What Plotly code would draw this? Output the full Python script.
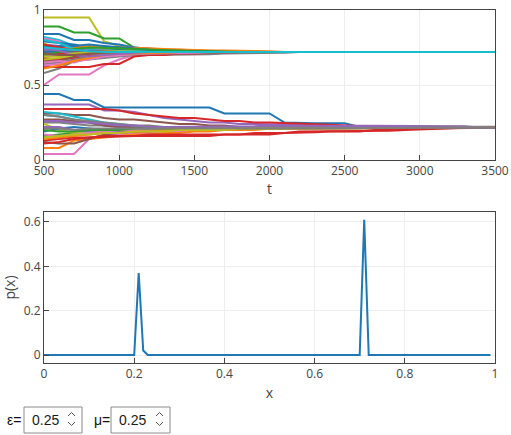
import plotly.graph_objects as go

# ---------------- data ----------------
T = [500, 600, 700, 800, 900, 1000, 1100, 1200, 1300, 1400, 1500,
     1600, 1700, 1800, 1900, 2000, 2100, 2200, 2300, 2400, 2500,
     2600, 2700, 2800, 2900, 3000, 3100, 3200, 3300, 3400, 3500]

# opinions of agents ending in the upper cluster (values at each T)
UPPER = [
    [0.95, 0.95, 0.95, 0.95, 0.79, 0.76, 0.74, 0.73, 0.73, 0.725,
     0.725, 0.72, 0.72, 0.72, 0.72, 0.72, 0.72, 0.72, 0.72, 0.72,
     0.72, 0.72, 0.72, 0.72, 0.72, 0.72, 0.72, 0.72, 0.72, 0.72, 0.72],
    [0.89, 0.89, 0.85, 0.85, 0.81, 0.81, 0.75, 0.74, 0.73, 0.73,
     0.725, 0.725, 0.72, 0.72, 0.72, 0.72, 0.72, 0.72, 0.72, 0.72,
     0.72, 0.72, 0.72, 0.72, 0.72, 0.72, 0.72, 0.72, 0.72, 0.72, 0.72],
    [0.84, 0.84, 0.80, 0.80, 0.78, 0.77, 0.75, 0.74, 0.735, 0.73,
     0.73, 0.725, 0.725, 0.72, 0.72, 0.72, 0.72, 0.72, 0.72, 0.72,
     0.72, 0.72, 0.72, 0.72, 0.72, 0.72, 0.72, 0.72, 0.72, 0.72, 0.72],
    [0.50, 0.57, 0.57, 0.57, 0.63, 0.67, 0.70, 0.71, 0.71, 0.715,
     0.715, 0.715, 0.72, 0.72, 0.72, 0.72, 0.72, 0.72, 0.72, 0.72,
     0.72, 0.72, 0.72, 0.72, 0.72, 0.72, 0.72, 0.72, 0.72, 0.72, 0.72],
    [0.58, 0.61, 0.66, 0.67, 0.68, 0.69, 0.70, 0.70, 0.70, 0.705,
     0.705, 0.705, 0.71, 0.71, 0.71, 0.715, 0.715, 0.72, 0.72, 0.72,
     0.72, 0.72, 0.72, 0.72, 0.72, 0.72, 0.72, 0.72, 0.72, 0.72, 0.72],
    [0.62, 0.62, 0.62, 0.62, 0.64, 0.64, 0.69, 0.70, 0.70, 0.71,
     0.71, 0.715, 0.715, 0.72, 0.72, 0.72, 0.72, 0.72, 0.72, 0.72,
     0.72, 0.72, 0.72, 0.72, 0.72, 0.72, 0.72, 0.72, 0.72, 0.72, 0.72],
    [0.82, 0.80, 0.76, 0.74, 0.73, 0.73, 0.73, 0.725, 0.725, 0.72,
     0.72, 0.72, 0.72, 0.72, 0.72, 0.72, 0.72, 0.72, 0.72, 0.72,
     0.72, 0.72, 0.72, 0.72, 0.72, 0.72, 0.72, 0.72, 0.72, 0.72, 0.72],
    [0.66, 0.67, 0.70, 0.72, 0.74, 0.75, 0.75, 0.745, 0.74, 0.735,
     0.735, 0.73, 0.73, 0.73, 0.725, 0.725, 0.72, 0.72, 0.72, 0.72,
     0.72, 0.72, 0.72, 0.72, 0.72, 0.72, 0.72, 0.72, 0.72, 0.72, 0.72],
    [0.81, 0.79, 0.75, 0.72, 0.70, 0.71, 0.71, 0.715, 0.715, 0.72,
     0.72, 0.72, 0.72, 0.72, 0.72, 0.72, 0.72, 0.72, 0.72, 0.72,
     0.72, 0.72, 0.72, 0.72, 0.72, 0.72, 0.72, 0.72, 0.72, 0.72, 0.72],
    [0.77, 0.76, 0.74, 0.73, 0.73, 0.725, 0.725, 0.72, 0.72, 0.72,
     0.72, 0.72, 0.72, 0.72, 0.72, 0.72, 0.72, 0.72, 0.72, 0.72,
     0.72, 0.72, 0.72, 0.72, 0.72, 0.72, 0.72, 0.72, 0.72, 0.72, 0.72],
    [0.70, 0.70, 0.69, 0.70, 0.71, 0.71, 0.715, 0.715, 0.72, 0.72,
     0.72, 0.72, 0.72, 0.72, 0.72, 0.72, 0.72, 0.72, 0.72, 0.72,
     0.72, 0.72, 0.72, 0.72, 0.72, 0.72, 0.72, 0.72, 0.72, 0.72, 0.72],
    [0.73, 0.73, 0.71, 0.72, 0.73, 0.735, 0.73, 0.73, 0.725, 0.725,
     0.72, 0.72, 0.72, 0.72, 0.72, 0.72, 0.72, 0.72, 0.72, 0.72,
     0.72, 0.72, 0.72, 0.72, 0.72, 0.72, 0.72, 0.72, 0.72, 0.72, 0.72],
    [0.79, 0.78, 0.77, 0.75, 0.75, 0.74, 0.735, 0.73, 0.73, 0.725,
     0.725, 0.72, 0.72, 0.72, 0.72, 0.72, 0.72, 0.72, 0.72, 0.72,
     0.72, 0.72, 0.72, 0.72, 0.72, 0.72, 0.72, 0.72, 0.72, 0.72, 0.72],
    [0.78, 0.72, 0.68, 0.70, 0.71, 0.71, 0.715, 0.715, 0.72, 0.72,
     0.72, 0.72, 0.72, 0.72, 0.72, 0.72, 0.72, 0.72, 0.72, 0.72,
     0.72, 0.72, 0.72, 0.72, 0.72, 0.72, 0.72, 0.72, 0.72, 0.72, 0.72],
    [0.72, 0.71, 0.72, 0.73, 0.73, 0.725, 0.72, 0.72, 0.72, 0.72,
     0.72, 0.72, 0.72, 0.72, 0.72, 0.72, 0.72, 0.72, 0.72, 0.72,
     0.72, 0.72, 0.72, 0.72, 0.72, 0.72, 0.72, 0.72, 0.72, 0.72, 0.72],
    [0.68, 0.67, 0.68, 0.70, 0.71, 0.71, 0.715, 0.72, 0.72, 0.72,
     0.72, 0.72, 0.72, 0.72, 0.72, 0.72, 0.72, 0.72, 0.72, 0.72,
     0.72, 0.72, 0.72, 0.72, 0.72, 0.72, 0.72, 0.72, 0.72, 0.72, 0.72],
    [0.64, 0.65, 0.67, 0.69, 0.70, 0.705, 0.71, 0.71, 0.71, 0.715,
     0.715, 0.715, 0.72, 0.72, 0.72, 0.72, 0.72, 0.72, 0.72, 0.72,
     0.72, 0.72, 0.72, 0.72, 0.72, 0.72, 0.72, 0.72, 0.72, 0.72, 0.72],
    [0.74, 0.74, 0.75, 0.76, 0.75, 0.745, 0.74, 0.74, 0.735, 0.735,
     0.73, 0.73, 0.725, 0.725, 0.72, 0.72, 0.72, 0.72, 0.72, 0.72,
     0.72, 0.72, 0.72, 0.72, 0.72, 0.72, 0.72, 0.72, 0.72, 0.72, 0.72],
    [0.63, 0.64, 0.66, 0.67, 0.69, 0.70, 0.705, 0.71, 0.71, 0.715,
     0.715, 0.72, 0.72, 0.72, 0.72, 0.72, 0.72, 0.72, 0.72, 0.72,
     0.72, 0.72, 0.72, 0.72, 0.72, 0.72, 0.72, 0.72, 0.72, 0.72, 0.72],
    [0.76, 0.75, 0.72, 0.70, 0.70, 0.71, 0.71, 0.715, 0.72, 0.72,
     0.72, 0.72, 0.72, 0.72, 0.72, 0.72, 0.72, 0.72, 0.72, 0.72,
     0.72, 0.72, 0.72, 0.72, 0.72, 0.72, 0.72, 0.72, 0.72, 0.72, 0.72],
    [0.69, 0.70, 0.71, 0.71, 0.715, 0.72, 0.72, 0.72, 0.72, 0.72,
     0.72, 0.72, 0.72, 0.72, 0.72, 0.72, 0.72, 0.72, 0.72, 0.72,
     0.72, 0.72, 0.72, 0.72, 0.72, 0.72, 0.72, 0.72, 0.72, 0.72, 0.72],
    [0.75, 0.76, 0.76, 0.77, 0.76, 0.75, 0.74, 0.735, 0.73, 0.73,
     0.725, 0.725, 0.72, 0.72, 0.72, 0.72, 0.72, 0.72, 0.72, 0.72,
     0.72, 0.72, 0.72, 0.72, 0.72, 0.72, 0.72, 0.72, 0.72, 0.72, 0.72],
    [0.66, 0.66, 0.69, 0.70, 0.71, 0.71, 0.715, 0.715, 0.72, 0.72,
     0.72, 0.72, 0.72, 0.72, 0.72, 0.72, 0.72, 0.72, 0.72, 0.72,
     0.72, 0.72, 0.72, 0.72, 0.72, 0.72, 0.72, 0.72, 0.72, 0.72, 0.72],
    [0.80, 0.78, 0.74, 0.72, 0.72, 0.725, 0.725, 0.72, 0.72, 0.72,
     0.72, 0.72, 0.72, 0.72, 0.72, 0.72, 0.72, 0.72, 0.72, 0.72,
     0.72, 0.72, 0.72, 0.72, 0.72, 0.72, 0.72, 0.72, 0.72, 0.72, 0.72],
    [0.71, 0.71, 0.70, 0.70, 0.71, 0.71, 0.715, 0.72, 0.72, 0.72,
     0.72, 0.72, 0.72, 0.72, 0.72, 0.72, 0.72, 0.72, 0.72, 0.72,
     0.72, 0.72, 0.72, 0.72, 0.72, 0.72, 0.72, 0.72, 0.72, 0.72, 0.72],
    [0.67, 0.68, 0.70, 0.71, 0.71, 0.715, 0.72, 0.72, 0.72, 0.72,
     0.72, 0.72, 0.72, 0.72, 0.72, 0.72, 0.72, 0.72, 0.72, 0.72,
     0.72, 0.72, 0.72, 0.72, 0.72, 0.72, 0.72, 0.72, 0.72, 0.72, 0.72],
    [0.65, 0.66, 0.65, 0.68, 0.70, 0.71, 0.71, 0.715, 0.715, 0.72,
     0.72, 0.72, 0.72, 0.72, 0.72, 0.72, 0.72, 0.72, 0.72, 0.72,
     0.72, 0.72, 0.72, 0.72, 0.72, 0.72, 0.72, 0.72, 0.72, 0.72, 0.72],
    [0.73, 0.72, 0.72, 0.71, 0.71, 0.715, 0.715, 0.72, 0.72, 0.72,
     0.72, 0.72, 0.72, 0.72, 0.72, 0.72, 0.72, 0.72, 0.72, 0.72,
     0.72, 0.72, 0.72, 0.72, 0.72, 0.72, 0.72, 0.72, 0.72, 0.72, 0.72],
    [0.70, 0.72, 0.74, 0.75, 0.75, 0.745, 0.74, 0.735, 0.73, 0.73,
     0.725, 0.725, 0.72, 0.72, 0.72, 0.72, 0.72, 0.72, 0.72, 0.72,
     0.72, 0.72, 0.72, 0.72, 0.72, 0.72, 0.72, 0.72, 0.72, 0.72, 0.72],
    [0.61, 0.63, 0.66, 0.68, 0.70, 0.71, 0.71, 0.715, 0.715, 0.72,
     0.72, 0.72, 0.72, 0.72, 0.72, 0.72, 0.72, 0.72, 0.72, 0.72,
     0.72, 0.72, 0.72, 0.72, 0.72, 0.72, 0.72, 0.72, 0.72, 0.72, 0.72],
    [0.72, 0.73, 0.73, 0.725, 0.72, 0.72, 0.72, 0.72, 0.72, 0.72,
     0.72, 0.72, 0.72, 0.72, 0.72, 0.72, 0.72, 0.72, 0.72, 0.72,
     0.72, 0.72, 0.72, 0.72, 0.72, 0.72, 0.72, 0.72, 0.72, 0.72, 0.72],
    [0.74, 0.73, 0.70, 0.69, 0.70, 0.71, 0.715, 0.72, 0.72, 0.72,
     0.72, 0.72, 0.72, 0.72, 0.72, 0.72, 0.72, 0.72, 0.72, 0.72,
     0.72, 0.72, 0.72, 0.72, 0.72, 0.72, 0.72, 0.72, 0.72, 0.72, 0.72],
    [0.69, 0.69, 0.71, 0.72, 0.725, 0.725, 0.72, 0.72, 0.72, 0.72,
     0.72, 0.72, 0.72, 0.72, 0.72, 0.72, 0.72, 0.72, 0.72, 0.72,
     0.72, 0.72, 0.72, 0.72, 0.72, 0.72, 0.72, 0.72, 0.72, 0.72, 0.72],
    [0.77, 0.75, 0.73, 0.725, 0.72, 0.72, 0.72, 0.72, 0.72, 0.72,
     0.72, 0.72, 0.72, 0.72, 0.72, 0.72, 0.72, 0.72, 0.72, 0.72,
     0.72, 0.72, 0.72, 0.72, 0.72, 0.72, 0.72, 0.72, 0.72, 0.72, 0.72],
    [0.71, 0.70, 0.70, 0.71, 0.715, 0.72, 0.72, 0.72, 0.72, 0.72,
     0.72, 0.72, 0.72, 0.72, 0.72, 0.72, 0.72, 0.72, 0.72, 0.72,
     0.72, 0.72, 0.72, 0.72, 0.72, 0.72, 0.72, 0.72, 0.72, 0.72, 0.72],
    [0.75, 0.74, 0.73, 0.725, 0.72, 0.72, 0.72, 0.72, 0.72, 0.72,
     0.72, 0.72, 0.72, 0.72, 0.72, 0.72, 0.72, 0.72, 0.72, 0.72,
     0.72, 0.72, 0.72, 0.72, 0.72, 0.72, 0.72, 0.72, 0.72, 0.72, 0.72],
]

# opinions of agents ending in the lower cluster (values at each T)
LOWER = [
    [0.44, 0.44, 0.40, 0.40, 0.35, 0.35, 0.35, 0.35, 0.35, 0.35,
     0.35, 0.35, 0.31, 0.31, 0.31, 0.31, 0.25, 0.245, 0.245, 0.245,
     0.245, 0.22, 0.22, 0.22, 0.215, 0.215, 0.215, 0.215, 0.215, 0.215, 0.215],
    [0.37, 0.37, 0.37, 0.37, 0.33, 0.33, 0.32, 0.30, 0.28, 0.27,
     0.26, 0.25, 0.25, 0.24, 0.24, 0.24, 0.235, 0.235, 0.23, 0.23,
     0.23, 0.23, 0.23, 0.23, 0.23, 0.23, 0.23, 0.23, 0.225, 0.215, 0.215],
    [0.04, 0.04, 0.04, 0.14, 0.16, 0.17, 0.18, 0.18, 0.19, 0.19,
     0.20, 0.20, 0.20, 0.21, 0.21, 0.21, 0.21, 0.21, 0.21, 0.215,
     0.215, 0.215, 0.215, 0.215, 0.215, 0.215, 0.215, 0.215, 0.215, 0.215, 0.215],
    [0.08, 0.08, 0.13, 0.14, 0.15, 0.16, 0.17, 0.17, 0.18, 0.18,
     0.19, 0.19, 0.20, 0.20, 0.20, 0.21, 0.21, 0.21, 0.21, 0.21,
     0.215, 0.215, 0.215, 0.215, 0.215, 0.215, 0.215, 0.215, 0.215, 0.215, 0.215],
    [0.12, 0.11, 0.11, 0.14, 0.17, 0.18, 0.19, 0.19, 0.20, 0.20,
     0.20, 0.21, 0.21, 0.21, 0.21, 0.21, 0.215, 0.215, 0.215, 0.215,
     0.215, 0.215, 0.215, 0.215, 0.215, 0.215, 0.215, 0.215, 0.215, 0.215, 0.215],
    [0.34, 0.34, 0.34, 0.34, 0.34, 0.33, 0.31, 0.30, 0.29, 0.28,
     0.28, 0.27, 0.26, 0.26, 0.25, 0.25, 0.245, 0.245, 0.24, 0.235,
     0.23, 0.225, 0.22, 0.22, 0.215, 0.215, 0.215, 0.215, 0.215, 0.215, 0.215],
    [0.13, 0.14, 0.15, 0.15, 0.155, 0.16, 0.16, 0.16, 0.16, 0.16,
     0.16, 0.16, 0.17, 0.17, 0.18, 0.18, 0.18, 0.19, 0.19, 0.19,
     0.19, 0.19, 0.195, 0.195, 0.20, 0.205, 0.21, 0.215, 0.215, 0.215, 0.215],
    [0.30, 0.29, 0.27, 0.25, 0.23, 0.23, 0.22, 0.22, 0.22, 0.22,
     0.215, 0.215, 0.215, 0.215, 0.215, 0.215, 0.215, 0.215, 0.215, 0.215,
     0.215, 0.215, 0.215, 0.215, 0.215, 0.215, 0.215, 0.215, 0.215, 0.215, 0.215],
    [0.16, 0.17, 0.18, 0.19, 0.20, 0.21, 0.21, 0.21, 0.21, 0.21,
     0.215, 0.215, 0.215, 0.215, 0.215, 0.215, 0.215, 0.215, 0.215, 0.215,
     0.215, 0.215, 0.215, 0.215, 0.215, 0.215, 0.215, 0.215, 0.215, 0.215, 0.215],
    [0.25, 0.25, 0.24, 0.23, 0.23, 0.22, 0.22, 0.22, 0.21, 0.21,
     0.215, 0.215, 0.215, 0.215, 0.215, 0.215, 0.215, 0.215, 0.215, 0.215,
     0.215, 0.215, 0.215, 0.215, 0.215, 0.215, 0.215, 0.215, 0.215, 0.215, 0.215],
    [0.24, 0.20, 0.18, 0.18, 0.18, 0.19, 0.19, 0.20, 0.20, 0.20,
     0.20, 0.21, 0.21, 0.21, 0.21, 0.215, 0.215, 0.215, 0.215, 0.215,
     0.215, 0.215, 0.215, 0.215, 0.215, 0.215, 0.215, 0.215, 0.215, 0.215, 0.215],
    [0.19, 0.21, 0.22, 0.21, 0.20, 0.20, 0.20, 0.21, 0.21, 0.21,
     0.215, 0.215, 0.215, 0.215, 0.215, 0.215, 0.215, 0.215, 0.215, 0.215,
     0.215, 0.215, 0.215, 0.215, 0.215, 0.215, 0.215, 0.215, 0.215, 0.215, 0.215],
    [0.22, 0.22, 0.20, 0.19, 0.18, 0.19, 0.20, 0.21, 0.21, 0.21,
     0.215, 0.215, 0.215, 0.215, 0.215, 0.215, 0.215, 0.215, 0.215, 0.215,
     0.215, 0.215, 0.215, 0.215, 0.215, 0.215, 0.215, 0.215, 0.215, 0.215, 0.215],
    [0.31, 0.31, 0.30, 0.30, 0.28, 0.27, 0.27, 0.26, 0.25, 0.24,
     0.24, 0.23, 0.23, 0.22, 0.22, 0.22, 0.215, 0.215, 0.215, 0.215,
     0.215, 0.215, 0.215, 0.215, 0.215, 0.215, 0.215, 0.215, 0.215, 0.215, 0.215],
    [0.17, 0.16, 0.17, 0.18, 0.19, 0.20, 0.20, 0.20, 0.21, 0.21,
     0.215, 0.215, 0.215, 0.215, 0.215, 0.215, 0.215, 0.215, 0.215, 0.215,
     0.215, 0.215, 0.215, 0.215, 0.215, 0.215, 0.215, 0.215, 0.215, 0.215, 0.215],
    [0.14, 0.15, 0.16, 0.17, 0.18, 0.18, 0.19, 0.19, 0.20, 0.20,
     0.20, 0.21, 0.21, 0.21, 0.215, 0.215, 0.215, 0.215, 0.215, 0.215,
     0.215, 0.215, 0.215, 0.215, 0.215, 0.215, 0.215, 0.215, 0.215, 0.215, 0.215],
    [0.27, 0.27, 0.26, 0.25, 0.23, 0.22, 0.22, 0.22, 0.22, 0.22,
     0.215, 0.215, 0.215, 0.215, 0.215, 0.215, 0.215, 0.215, 0.215, 0.215,
     0.215, 0.215, 0.215, 0.215, 0.215, 0.215, 0.215, 0.215, 0.215, 0.215, 0.215],
    [0.32, 0.31, 0.29, 0.27, 0.25, 0.24, 0.23, 0.22, 0.22, 0.22,
     0.215, 0.215, 0.215, 0.215, 0.215, 0.215, 0.215, 0.215, 0.215, 0.215,
     0.215, 0.215, 0.215, 0.215, 0.215, 0.215, 0.215, 0.215, 0.215, 0.215, 0.215],
    [0.20, 0.19, 0.19, 0.20, 0.20, 0.20, 0.21, 0.21, 0.21, 0.21,
     0.215, 0.215, 0.215, 0.215, 0.215, 0.215, 0.215, 0.215, 0.215, 0.215,
     0.215, 0.215, 0.215, 0.215, 0.215, 0.215, 0.215, 0.215, 0.215, 0.215, 0.215],
    [0.30, 0.29, 0.27, 0.26, 0.25, 0.24, 0.23, 0.23, 0.22, 0.22,
     0.22, 0.22, 0.22, 0.222, 0.222, 0.222, 0.222, 0.222, 0.222, 0.222,
     0.222, 0.222, 0.222, 0.222, 0.222, 0.222, 0.222, 0.222, 0.222, 0.222, 0.222],
    [0.15, 0.16, 0.17, 0.17, 0.18, 0.18, 0.19, 0.19, 0.19, 0.20,
     0.20, 0.20, 0.20, 0.21, 0.21, 0.215, 0.215, 0.215, 0.215, 0.215,
     0.215, 0.215, 0.215, 0.215, 0.215, 0.215, 0.215, 0.215, 0.215, 0.215, 0.215],
    [0.11, 0.12, 0.14, 0.15, 0.16, 0.16, 0.16, 0.17, 0.17, 0.17,
     0.17, 0.17, 0.17, 0.17, 0.17, 0.17, 0.18, 0.18, 0.185, 0.19,
     0.19, 0.19, 0.20, 0.20, 0.205, 0.21, 0.21, 0.215, 0.215, 0.215, 0.215],
    [0.26, 0.26, 0.25, 0.25, 0.24, 0.23, 0.23, 0.22, 0.22, 0.22,
     0.22, 0.22, 0.225, 0.225, 0.225, 0.23, 0.23, 0.23, 0.23, 0.23,
     0.23, 0.23, 0.23, 0.225, 0.22, 0.22, 0.22, 0.22, 0.215, 0.215, 0.215],
    [0.21, 0.21, 0.20, 0.21, 0.21, 0.21, 0.215, 0.215, 0.215, 0.215,
     0.215, 0.215, 0.215, 0.215, 0.215, 0.215, 0.215, 0.215, 0.215, 0.215,
     0.215, 0.215, 0.215, 0.215, 0.215, 0.215, 0.215, 0.215, 0.215, 0.215, 0.215],
]

# final opinion distribution
X_BINS = [0.00, 0.01, 0.02, 0.03, 0.04, 0.05, 0.06, 0.07, 0.08, 0.09,
          0.10, 0.11, 0.12, 0.13, 0.14, 0.15, 0.16, 0.17, 0.18, 0.19,
          0.20, 0.21, 0.22, 0.23, 0.24, 0.25, 0.26, 0.27, 0.28, 0.29,
          0.30, 0.31, 0.32, 0.33, 0.34, 0.35, 0.36, 0.37, 0.38, 0.39,
          0.40, 0.41, 0.42, 0.43, 0.44, 0.45, 0.46, 0.47, 0.48, 0.49,
          0.50, 0.51, 0.52, 0.53, 0.54, 0.55, 0.56, 0.57, 0.58, 0.59,
          0.60, 0.61, 0.62, 0.63, 0.64, 0.65, 0.66, 0.67, 0.68, 0.69,
          0.70, 0.71, 0.72, 0.73, 0.74, 0.75, 0.76, 0.77, 0.78, 0.79,
          0.80, 0.81, 0.82, 0.83, 0.84, 0.85, 0.86, 0.87, 0.88, 0.89,
          0.90, 0.91, 0.92, 0.93, 0.94, 0.95, 0.96, 0.97, 0.98, 0.99]
P_X = [0, 0, 0, 0, 0, 0, 0, 0, 0, 0,
       0, 0, 0, 0, 0, 0, 0, 0, 0, 0,
       0, 0.37, 0.02, 0, 0, 0, 0, 0, 0, 0,
       0, 0, 0, 0, 0, 0, 0, 0, 0, 0,
       0, 0, 0, 0, 0, 0, 0, 0, 0, 0,
       0, 0, 0, 0, 0, 0, 0, 0, 0, 0,
       0, 0, 0, 0, 0, 0, 0, 0, 0, 0,
       0, 0.61, 0, 0, 0, 0, 0, 0, 0, 0,
       0, 0, 0, 0, 0, 0, 0, 0, 0, 0,
       0, 0, 0, 0, 0, 0, 0, 0, 0, 0]

EPSILON = "0.25"
MU = "0.25"

# ---------------- style ----------------
C = ["#1f77b4", "#ff7f0e", "#2ca02c", "#d62728", "#9467bd",
     "#8c564b", "#e377c2", "#7f7f7f", "#bcbd22", "#17becf"]
UPPER_COL = [8, 2, 0, 6, 7, 3, 9, 1, 6, 4, 5, 2, 0, 8, 9, 3, 7, 1,
             6, 2, 4, 0, 5, 9, 3, 8, 6, 7, 2, 1, 0, 4, 8, 3, 5, 9]
LOWER_COL = [0, 4, 6, 1, 5, 3, 3, 9, 2, 7, 8, 0, 4, 5, 6, 1, 5, 9,
             2, 7, 8, 3, 4, 7]

fig = go.Figure()
for i in range(len(UPPER)):
    fig.add_trace(go.Scatter(x=T, y=UPPER[i], mode="lines",
                             line=dict(color=C[UPPER_COL[i]], width=2),
                             xaxis="x", yaxis="y", showlegend=False))
    if i < len(LOWER):
        fig.add_trace(go.Scatter(x=T, y=LOWER[i], mode="lines",
                                 line=dict(color=C[LOWER_COL[i]], width=2),
                                 xaxis="x", yaxis="y", showlegend=False))

fig.add_trace(go.Scatter(x=X_BINS, y=P_X, mode="lines",
                         line=dict(color="#1f77b4", width=2),
                         xaxis="x2", yaxis="y2", showlegend=False))

W, H = 511, 435
ML, MR, MT, MB = 44, 16, 10, 72
PW = W - ML - MR
PH = H - MT - MB


def px(xp):
    # page pixel x -> paper coordinate
    return (xp - ML) / PW


def py(yp):
    # page pixel y -> paper coordinate
    return (H - MB - yp) / PH


axis_common = dict(showline=True, mirror=True, linecolor="#444", linewidth=1,
                   ticks="inside", ticklen=5, tickcolor="#444",
                   showgrid=True, gridcolor="#eee", zeroline=False,
                   ticklabeloverflow="allow",
                   tickfont=dict(size=12, color="#444"))

fig.update_layout(
    template="none",
    width=W, height=H,
    margin=dict(l=ML, r=MR, t=MT, b=MB, pad=0),
    paper_bgcolor="white", plot_bgcolor="white",
    font=dict(family="Open Sans, verdana, arial, sans-serif", size=12, color="#444"),
    xaxis=dict(domain=[0, 1], anchor="y", range=[500, 3500],
               tickvals=[500, 1000, 1500, 2000, 2500, 3000, 3500],
               title=dict(text="t", font=dict(size=14), standoff=4), **axis_common),
    yaxis=dict(domain=[py(160), 1], anchor="x", range=[0, 1],
               tickvals=[0, 0.5, 1], **axis_common),
    xaxis2=dict(domain=[0, 1], anchor="y2", range=[0, 1],
                tickvals=[0, 0.2, 0.4, 0.6, 0.8, 1],
                title=dict(text="x", font=dict(size=14), standoff=6), **axis_common),
    yaxis2=dict(domain=[0, py(212)], anchor="x2", range=[-0.036, 0.645],
                tickvals=[0, 0.2, 0.4, 0.6],
                title=dict(text="p(x)", font=dict(size=14), standoff=4), **axis_common),
)

# input-like widgets under the chart
widget_font = dict(family="Liberation Sans, Arial, sans-serif", size=14, color="#111")
for label, value, lx, bx0, bx1 in [("ε=", EPSILON, 5, 24, 82), ("μ=", MU, 92, 111, 170)]:
    fig.add_shape(type="rect", xref="paper", yref="paper",
                  x0=px(bx0), x1=px(bx1), y0=py(433), y1=py(407),
                  line=dict(color="#8a8a8a", width=1), fillcolor="white")
    fig.add_annotation(xref="paper", yref="paper", x=px(lx), y=py(420),
                       xanchor="left", yanchor="middle", text=label,
                       showarrow=False, font=widget_font)
    fig.add_annotation(xref="paper", yref="paper", x=px(bx0 + 6), y=py(420),
                       xanchor="left", yanchor="middle", text=value,
                       showarrow=False, font=dict(widget_font, color="#1a1a1a"))
    sx = bx1 - 14
    fig.add_shape(type="path", xref="paper", yref="paper",
                  path=f"M {px(sx)},{py(416)} L {px(sx + 3.5)},{py(412.5)} L {px(sx + 7)},{py(416)}",
                  line=dict(color="#555", width=1))
    fig.add_shape(type="path", xref="paper", yref="paper",
                  path=f"M {px(sx)},{py(422)} L {px(sx + 3.5)},{py(425.5)} L {px(sx + 7)},{py(422)}",
                  line=dict(color="#555", width=1))

# the page body has a default 8px margin; remove it so the chart
# starts at the window's top-left corner
fig.write_html("out.html", config={"displayModeBar": False},
               post_script="document.body.style.margin='0';")
